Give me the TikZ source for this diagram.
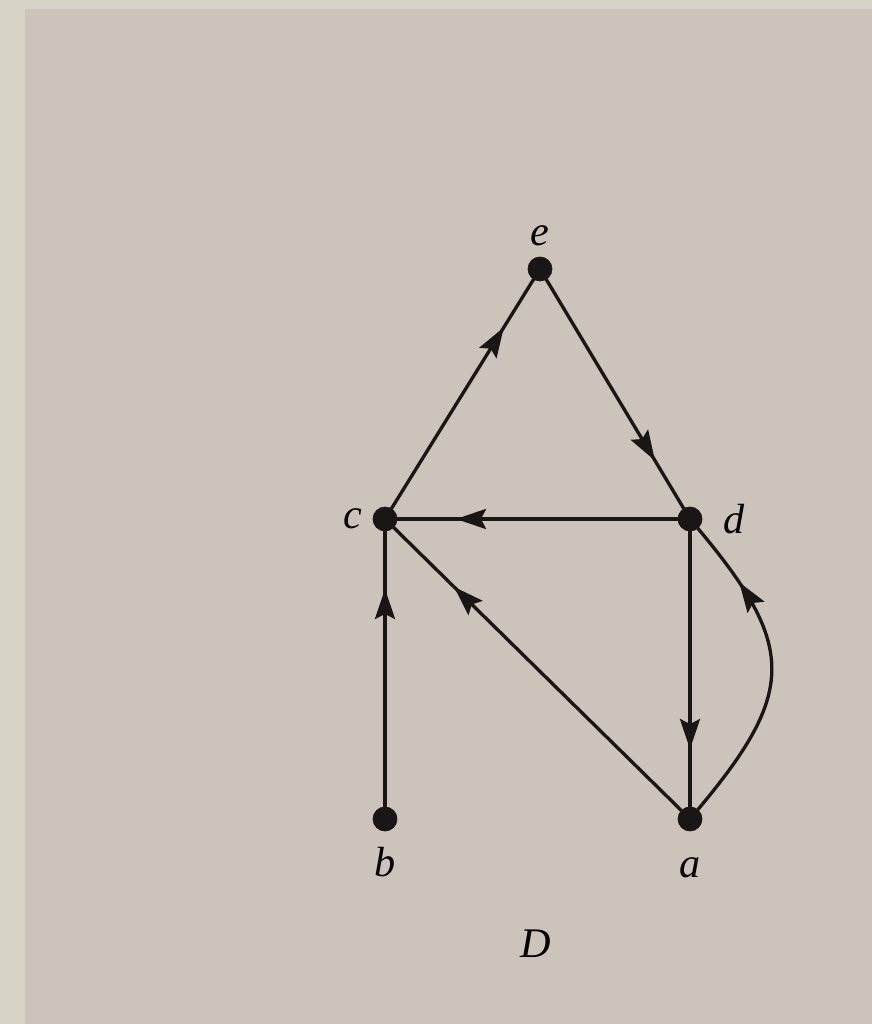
\documentclass[tikz,border=0pt]{standalone}
\usepackage{fontspec}
\setmainfont{Liberation Serif}
\usepackage{tkz-graph}
\usetikzlibrary{arrows.meta,decorations.markings}
\definecolor{paper}{RGB}{204,196,187}
\definecolor{paperedge}{RGB}{214,210,197}
\definecolor{ink}{RGB}{26,22,22}
\begin{document}
\begin{tikzpicture}[font=\fontsize{24}{28}\selectfont\itshape]
  \useasboundingbox (0,0) rectangle (17.44,20.48);
  \fill[paper] (0,0) rectangle (17.44,20.48);
  \fill[paperedge] (0,0) rectangle (0.5,20.48);
  \fill[paperedge] (0,20.3) rectangle (17.44,20.48);
  \SetGraphUnit{6}
  \SetUpVertex[LabelOut=true,Ldist=.1cm]
  \tikzset{
    VertexStyle/.style = {shape=circle, fill=ink, draw=ink, inner sep=0pt, minimum size=0.48cm},
    EdgeStyle/.style = {draw=ink, line width=1.9pt, postaction={decorate},
      decoration={markings, mark=at position .79 with
        {\arrow{Stealth[length=0.6cm,width=0.4cm,inset=0.1cm]}}}}}
   %%%%%%%%%%%%%%%%% vertices %%%%%%%%%%%%%%%%%%%
\Vertex[x=7.7,y=4.1,L=b,Lpos=-90,Ldist=.2cm]{b}
\EA[unit=6.1,L=a,Lpos=-90,Ldist=.4cm](b){a}
\NO[L=c,Lpos=180](b){c}
\NO[L=d,Lpos=0,Ldist=.3cm](a){d}
\Vertex[x=10.8,y=15.1,L=e,Lpos=90]{e}
\node (D) at (10.72,1.6) {D};
%%%%%%%%%%%%%%%%% edges %%%%%%%%%%%%%%%%%%%%%%%
\Edge(b)(c)  \Edge(a)(c)  \Edge(d)(c)
\Edge(c)(e)  \Edge(e)(d)  \Edge(d)(a)
\Edge[style={bend right=40,looseness=1.4}](a)(d)
\end{tikzpicture}
\end{document}
